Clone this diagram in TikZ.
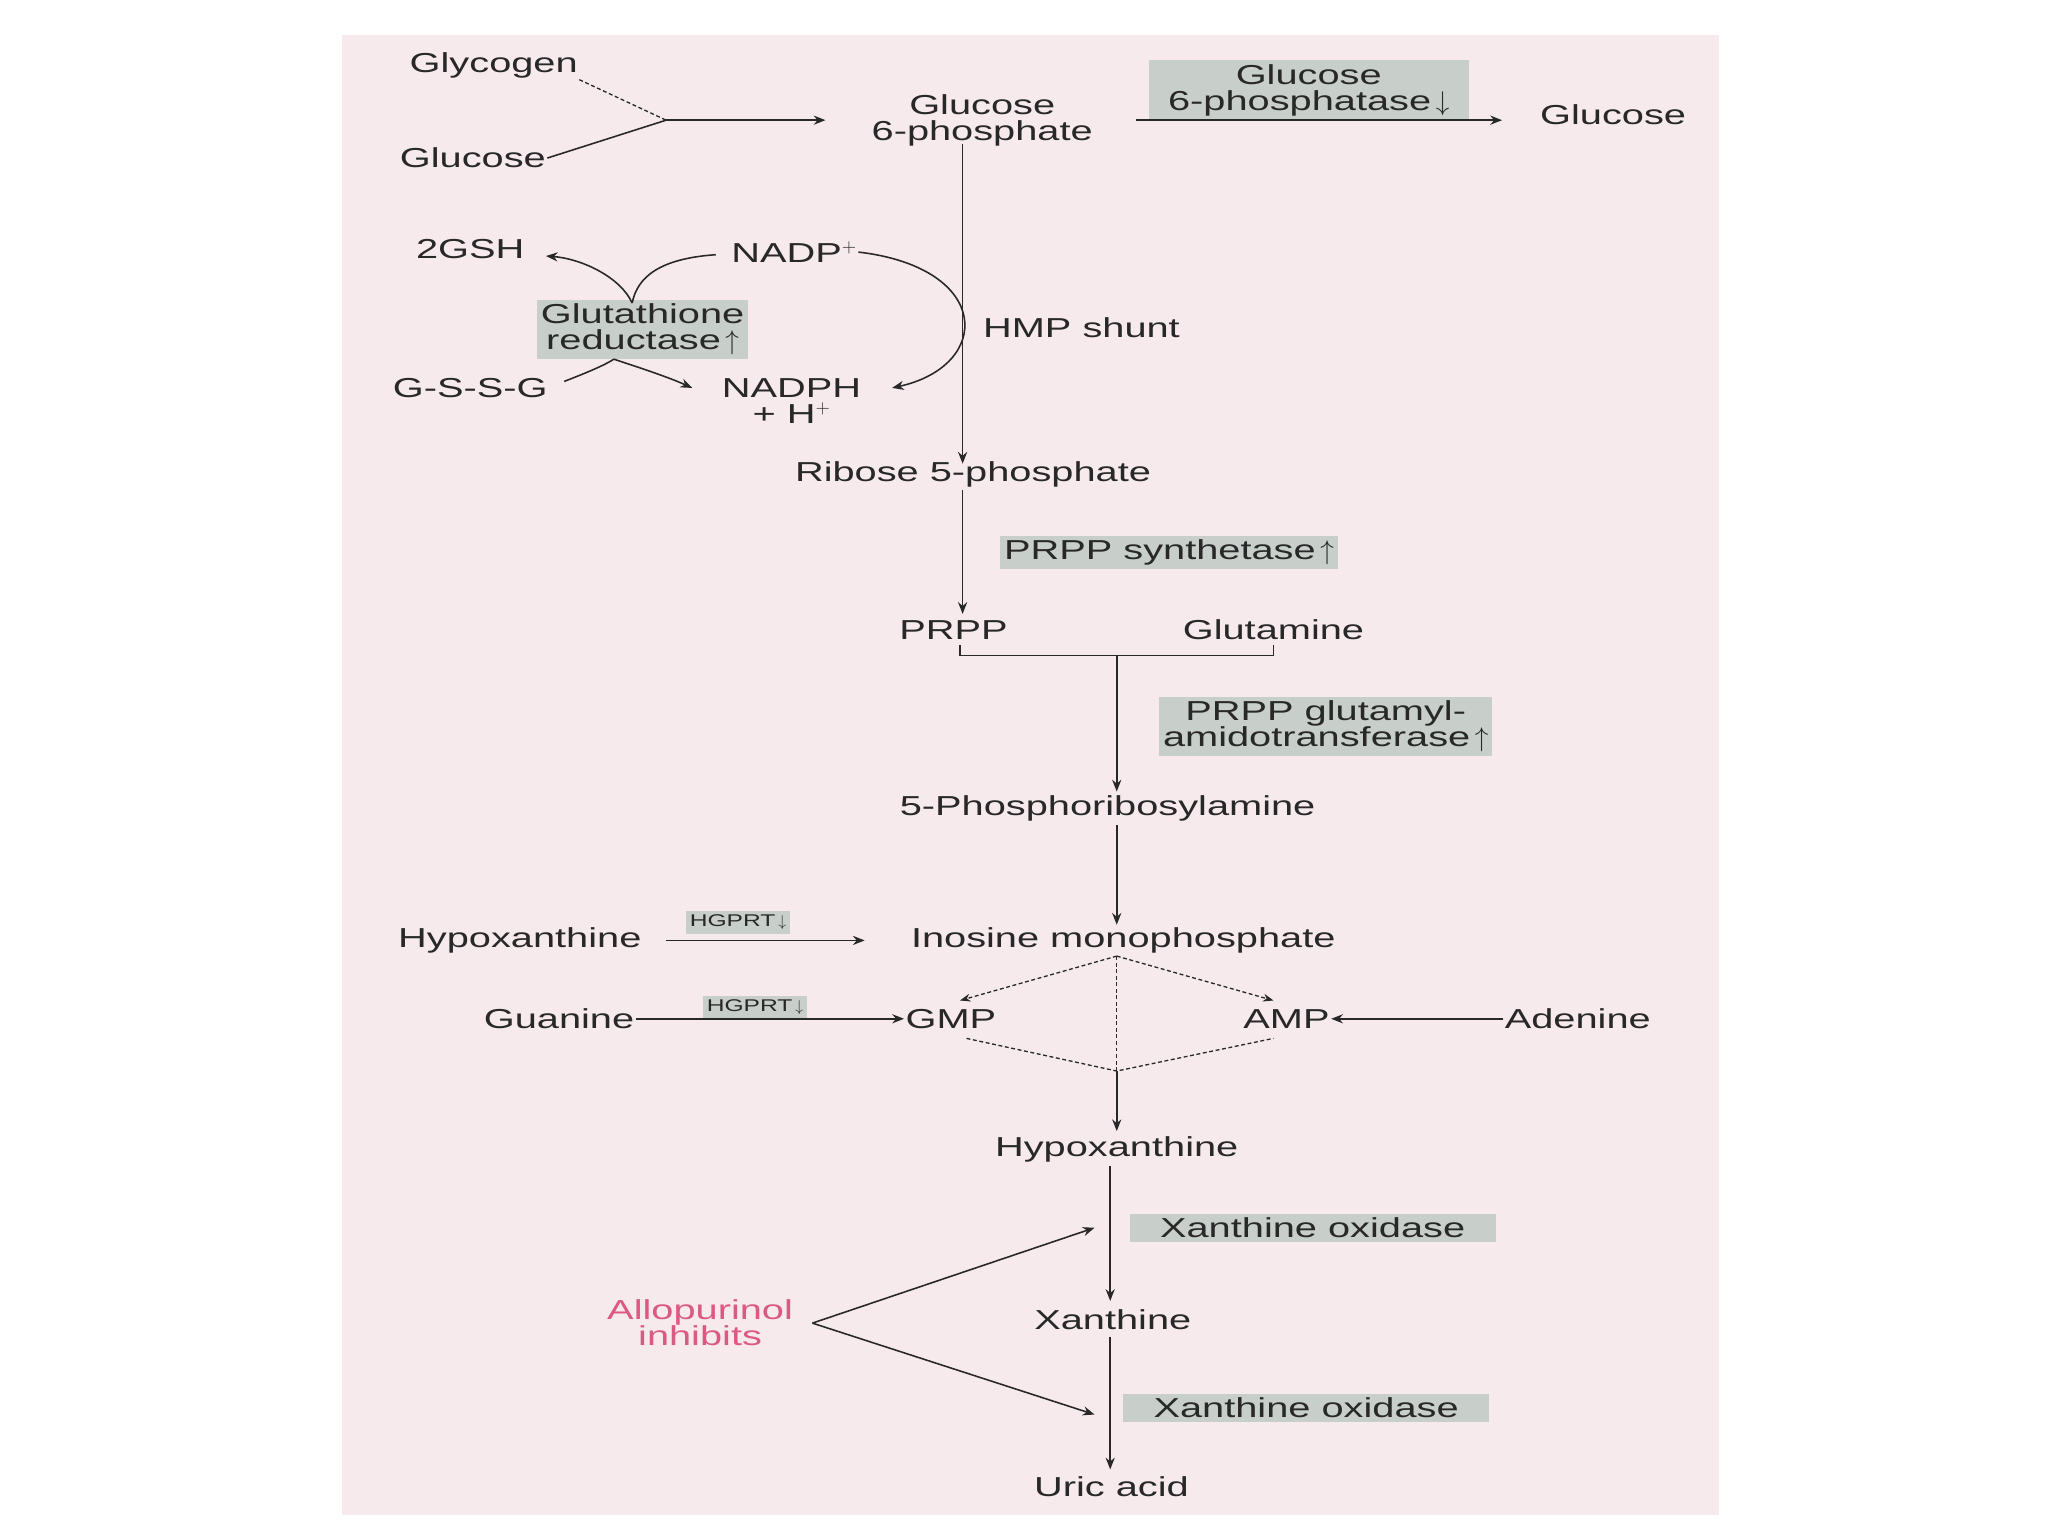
\documentclass[tikz,border=0pt]{standalone}
\usepackage{fontspec}
\setmainfont[FakeStretch=1.45]{Liberation Sans}
\usetikzlibrary{arrows.meta}
\definecolor{pg}{RGB}{246,234,237}
\definecolor{bx}{RGB}{200,206,202}
\definecolor{ink}{RGB}{40,40,40}
\definecolor{allo}{RGB}{220,90,130}
\begin{document}
\begin{tikzpicture}[x=1pt,y=-1pt,
  every node/.style={font=\fontsize{21}{20}\selectfont,text=ink,inner sep=1pt,align=center},
  ln/.style={draw=ink,line width=1.2pt,-{Stealth[length=9pt,width=7pt]}},
  pl/.style={draw=ink,line width=1.2pt},
  dl/.style={draw=ink,line width=1pt,dashed,dash pattern=on 3pt off 2pt},
  enz/.style={fill=bx,inner sep=3pt}]
\useasboundingbox (0,0) rectangle (1568,1176);
\fill[white] (0,0) rectangle (1568,1176);
\fill[pg] (262,27) rectangle (1316,1160);
% top
\node (gly) at (378,50) {Glycogen};
\node (glcL) at (362,121) {Glucose};
\coordinate (j) at (510,92);
\node (g6p) at (752,92) {Glucose\\6-phosphate};
\node[enz,minimum width=245pt] (g6pase) at (1002,69) {Glucose\\6-phosphatase\,$\downarrow$};
\node (glcR) at (1235,88) {Glucose};
\draw[dl] (gly.south east) -- (j);
\draw[pl] (glcL.east) -- (j);
\draw[ln] (j) -- (632,92);
\coordinate (g6r) at (870,92);
\draw[ln] (g6r) -- (1150,92);
% HMP
\node (gsh) at (360,191) {2GSH};
\node (nadp) at (608,193) {NADP$^+$};
\node[enz] (gr) at (492,252) {Glutathione\\reductase\,$\uparrow$};
\node (hmp) at (828,251) {HMP shunt};
\node (gssg) at (360,297) {G-S-S-G};
\node (nadph) at (606,307) {NADPH\\+ H$^+$};
\node (r5p) at (745,363) {Ribose 5-phosphate};
\coordinate (v1) at (737,110);
\draw[ln] (v1) -- (737,355);
\coordinate (xt) at (484,232);
\coordinate (xb) at (470,275);
\draw[pl] (548,195) .. controls (505,198) and (488,212) .. (xt);
\draw[ln] (xt) .. controls (475,212) and (445,198) .. (418,196);
\draw[pl] (432,292) .. controls (450,285) and (462,280) .. (xb);
\draw[ln] (xb) .. controls (485,280) and (510,288) .. (530,297);
\draw[ln] (nadp.east) .. controls (760,205) and (760,280) .. (683,297);
% PRPP
\node[enz] (prs) at (895,423) {PRPP synthetase\,$\uparrow$};
\node (prpp) at (730,482) {PRPP};
\node (gln) at (975,482) {Glutamine};
\draw[ln] (737,375) -- (737,470);
\draw[pl] (735,494) -- (735,502) -- (975,502) -- (975,494);
\node[enz] (pgat) at (1015,556) {PRPP glutamyl-\\amidotransferase\,$\uparrow$};
\node (pra) at (848,619) {5-Phosphoribosylamine};
\draw[ln] (855,502) -- (855,606);
% IMP
\node (hypL) at (398,720) {Hypoxanthine};
\node[enz,font=\fontsize{13}{14}\selectfont] (h1) at (565,706) {HGPRT\,$\downarrow$};
\node (imp) at (860,720) {Inosine monophosphate};
\draw[ln] (855,632) -- (855,708);
\draw[ln] (510,720) -- (662,720);
\node (gua) at (428,780) {Guanine};
\node[enz,font=\fontsize{13}{14}\selectfont] (h2) at (578,771) {HGPRT\,$\downarrow$};
\node (gmp) at (728,780) {GMP};
\node (amp) at (985,780) {AMP};
\node (ade) at (1208,780) {Adenine};
\draw[ln] (gua.east) -- (gmp.west);
\draw[ln] (ade.west) -- (amp.east);
\coordinate (ib) at (855,732);
\coordinate (dl) at (855,820);
\draw[dl,-{Stealth[length=8pt,width=6pt]}] (ib) -- (735,766);
\draw[dl,-{Stealth[length=8pt,width=6pt]}] (ib) -- (975,766);
\draw[dl] (740,795) -- (dl) -- (975,795);
\draw[dl] (ib) -- (dl);
\node (hyp) at (855,880) {Hypoxanthine};
\draw[ln] (dl) -- (855,866);
% xanthine
\node[enz,minimum width=280pt] (xo1) at (1005,940) {Xanthine oxidase};
\node (xan) at (852,1010) {Xanthine};
\node[enz,minimum width=280pt] (xo2) at (1000,1078) {Xanthine oxidase};
\node (uric) at (851,1138) {Uric acid};
\draw[ln] (850,893) -- (850,996);
\draw[ln] (850,1024) -- (850,1125);
\node[text=allo] (allo) at (536,1013) {Allopurinol\\inhibits};
\coordinate (ap) at (622,1013);
\draw[ln] (ap) -- (838,940);
\draw[ln] (ap) -- (838,1083);
\end{tikzpicture}
\end{document}
